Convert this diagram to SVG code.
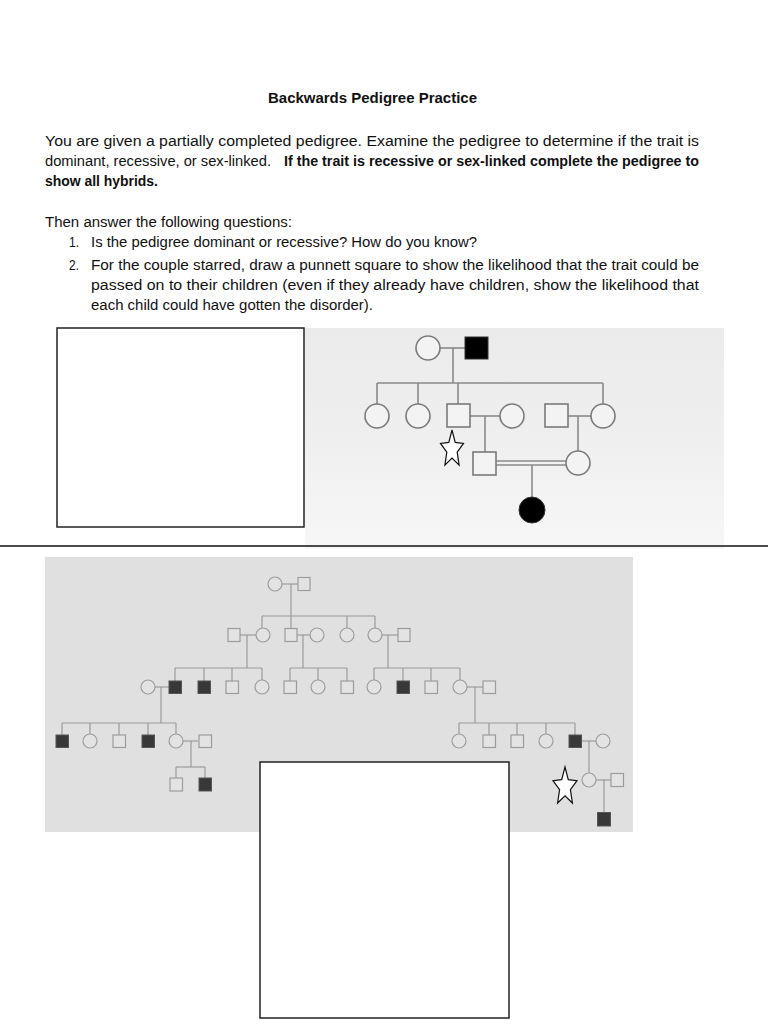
<svg xmlns="http://www.w3.org/2000/svg" width="768" height="1024" viewBox="0 0 768 1024">
<defs>
<linearGradient id="bgTop" x1="0" y1="0" x2="0" y2="1">
<stop offset="0" stop-color="#ebebeb"/>
<stop offset="0.5" stop-color="#efefef"/>
<stop offset="1" stop-color="#f7f7f7"/>
</linearGradient>
<style>
text{font-family:"Liberation Sans",Arial,sans-serif;font-size:14px;fill:#111}
.b{font-weight:bold}
.tl{stroke:#8a8a8a;stroke-width:1.6;fill:none}
.tn{stroke:#7a7a7a;stroke-width:1.6;fill:#f3f3f3}
.tf{fill:#000;stroke:#333;stroke-width:1}
.bl{stroke:#9a9a9a;stroke-width:1.2;fill:none}
.bn{stroke:#9c9c9c;stroke-width:1.2;fill:#e3e3e3}
.bf{fill:#383838;stroke:#555;stroke-width:1}
.star{fill:#fff;stroke:#111;stroke-width:1.2;stroke-linejoin:miter}
.box{fill:#fff;stroke:#222;stroke-width:1.5}
</style>
</defs>
<rect width="768" height="1024" fill="#fff"/>

<g id="text">
<text class="b" x="268" y="103" textLength="209" lengthAdjust="spacingAndGlyphs">Backwards Pedigree Practice</text>
<text x="45" y="146" textLength="654" lengthAdjust="spacingAndGlyphs">You are given a partially completed pedigree.  Examine the pedigree to determine if the trait is</text>
<text x="45" y="166" textLength="226" lengthAdjust="spacingAndGlyphs">dominant, recessive, or sex-linked.</text>
<text class="b" x="284" y="166" textLength="415" lengthAdjust="spacingAndGlyphs">If the trait is recessive or sex-linked complete the pedigree to</text>
<text class="b" x="45" y="186" textLength="113" lengthAdjust="spacingAndGlyphs">show all hybrids.</text>
<text x="45" y="227" textLength="247" lengthAdjust="spacingAndGlyphs">Then answer the following questions:</text>
<text x="69" y="247" textLength="10" lengthAdjust="spacingAndGlyphs">1.</text>
<text x="91" y="247" textLength="386" lengthAdjust="spacingAndGlyphs">Is the pedigree dominant or recessive? How do you know?</text>
<text x="69" y="270" textLength="10" lengthAdjust="spacingAndGlyphs">2.</text>
<text x="91" y="270" textLength="608" lengthAdjust="spacingAndGlyphs">For the couple starred, draw a punnett square to show the likelihood that the trait could be</text>
<text x="91" y="290" textLength="608" lengthAdjust="spacingAndGlyphs">passed on to their children (even if they already have children, show the likelihood that</text>
<text x="91" y="310" textLength="282" lengthAdjust="spacingAndGlyphs">each child could have gotten the disorder).</text>
</g>

<!-- Top pedigree image background -->
<rect x="305" y="328" width="419" height="221" fill="url(#bgTop)"/>
<g id="top-answer-box"><rect class="box" x="57" y="328" width="247" height="199"/></g>

<g id="top-connectors">
<line class="tl" x1="440" y1="348" x2="465" y2="348" stroke-width="3" stroke="#b8b8b8"/>
<line class="tl" x1="453" y1="348" x2="453" y2="383"/>
<line class="tl" x1="377" y1="383" x2="603" y2="383"/>
<line class="tl" x1="377" y1="383" x2="377" y2="404"/>
<line class="tl" x1="418" y1="383" x2="418" y2="404"/>
<line class="tl" x1="458" y1="383" x2="458" y2="404"/>
<line class="tl" x1="603" y1="383" x2="603" y2="404"/>
<line class="tl" x1="470" y1="416" x2="500" y2="416" stroke="#b0b0b0"/>
<line class="tl" x1="485" y1="416" x2="485" y2="452"/>
<line class="tl" x1="568" y1="416" x2="591" y2="416"/>
<line class="tl" x1="578" y1="416" x2="578" y2="451"/>
<line class="tl" x1="496" y1="461" x2="566" y2="461"/>
<line class="tl" x1="496" y1="465" x2="566" y2="465"/>
<line class="tl" x1="532" y1="465" x2="532" y2="497"/>
</g>

<g id="t1"><circle class="tn" cx="428" cy="348" r="12"/></g>
<g id="t2"><rect class="tf" x="465" y="337" width="23" height="22"/></g>
<g id="t3"><circle class="tn" cx="377" cy="416" r="12"/></g>
<g id="t4"><circle class="tn" cx="418" cy="416" r="12"/></g>
<g id="t5"><rect class="tn" x="447" y="404" width="23" height="23"/></g>
<g id="t6"><circle class="tn" cx="512" cy="416" r="12"/></g>
<g id="t7"><rect class="tn" x="545" y="404" width="23" height="23"/></g>
<g id="t8"><circle class="tn" cx="603" cy="416" r="12"/></g>
<g id="t9"><rect class="tn" x="473" y="452" width="23" height="23"/></g>
<g id="t10"><circle class="tn" cx="578" cy="463" r="12"/></g>
<g id="t11"><circle class="tf" cx="532" cy="510" r="13"/></g>
<g id="top-star"><path class="star" d="M452,430 L455.2,442.4 L463.5,443.4 L457.2,452.1 L459.1,465.1 L452,458.1 L444.9,465.1 L446.8,452.1 L440.5,443.4 L448.8,442.4 Z"/></g>

<line x1="0" y1="546" x2="768" y2="546" stroke="#111" stroke-width="1.3"/>

<!-- Bottom pedigree -->
<rect x="45" y="557" width="588" height="275" fill="#e0e0e0"/>

<g id="bottom-connectors">
<line class="bl" x1="282" y1="584" x2="298" y2="584"/>
<line class="bl" x1="291" y1="584" x2="291" y2="616"/>
<line class="bl" x1="262" y1="616" x2="375" y2="616"/>
<line class="bl" x1="262" y1="616" x2="262" y2="628"/>
<line class="bl" x1="291" y1="616" x2="291" y2="628"/>
<line class="bl" x1="347" y1="616" x2="347" y2="628"/>
<line class="bl" x1="375" y1="616" x2="375" y2="628"/>
<line class="bl" x1="240" y1="635" x2="256" y2="635"/>
<line class="bl" x1="247" y1="635" x2="247" y2="668"/>
<line class="bl" x1="297" y1="635" x2="310" y2="635"/>
<line class="bl" x1="303" y1="635" x2="303" y2="668"/>
<line class="bl" x1="382" y1="635" x2="398" y2="635"/>
<line class="bl" x1="388" y1="635" x2="388" y2="668"/>
<line class="bl" x1="175" y1="668" x2="262" y2="668"/>
<line class="bl" x1="175" y1="668" x2="175" y2="681"/>
<line class="bl" x1="204" y1="668" x2="204" y2="681"/>
<line class="bl" x1="232" y1="668" x2="232" y2="681"/>
<line class="bl" x1="262" y1="668" x2="262" y2="680"/>
<line class="bl" x1="290" y1="668" x2="347" y2="668"/>
<line class="bl" x1="290" y1="668" x2="290" y2="681"/>
<line class="bl" x1="318" y1="668" x2="318" y2="680"/>
<line class="bl" x1="347" y1="668" x2="347" y2="681"/>
<line class="bl" x1="374" y1="668" x2="460" y2="668"/>
<line class="bl" x1="374" y1="668" x2="374" y2="680"/>
<line class="bl" x1="403" y1="668" x2="403" y2="681"/>
<line class="bl" x1="431" y1="668" x2="431" y2="681"/>
<line class="bl" x1="460" y1="668" x2="460" y2="680"/>
<line class="bl" x1="155" y1="687" x2="169" y2="687"/>
<line class="bl" x1="161" y1="687" x2="161" y2="723"/>
<line class="bl" x1="467" y1="687" x2="483" y2="687"/>
<line class="bl" x1="475" y1="687" x2="475" y2="723"/>
<line class="bl" x1="62" y1="723" x2="176" y2="723"/>
<line class="bl" x1="62" y1="723" x2="62" y2="735"/>
<line class="bl" x1="90" y1="723" x2="90" y2="734"/>
<line class="bl" x1="119" y1="723" x2="119" y2="735"/>
<line class="bl" x1="148" y1="723" x2="148" y2="735"/>
<line class="bl" x1="176" y1="723" x2="176" y2="734"/>
<line class="bl" x1="183" y1="741" x2="198" y2="741"/>
<line class="bl" x1="191" y1="741" x2="191" y2="767"/>
<line class="bl" x1="176" y1="767" x2="205" y2="767"/>
<line class="bl" x1="176" y1="767" x2="176" y2="778"/>
<line class="bl" x1="205" y1="767" x2="205" y2="778"/>
<line class="bl" x1="459" y1="723" x2="575" y2="723"/>
<line class="bl" x1="459" y1="723" x2="459" y2="734"/>
<line class="bl" x1="489" y1="723" x2="489" y2="735"/>
<line class="bl" x1="517" y1="723" x2="517" y2="735"/>
<line class="bl" x1="546" y1="723" x2="546" y2="734"/>
<line class="bl" x1="575" y1="723" x2="575" y2="735"/>
<line class="bl" x1="582" y1="741" x2="596" y2="741"/>
<line class="bl" x1="589" y1="741" x2="589" y2="773"/>
<line class="bl" x1="596" y1="780" x2="611" y2="780"/>
<line class="bl" x1="604" y1="780" x2="604" y2="812"/>
</g>

<g id="g1a"><circle class="bn" cx="275" cy="584" r="7"/></g>
<g id="g1b"><rect class="bn" x="298" y="577.5" width="12" height="13"/></g>

<g id="g2a"><rect class="bn" x="228" y="628.5" width="12" height="13"/></g>
<g id="g2b"><circle class="bn" cx="263" cy="635" r="7"/></g>
<g id="g2c"><rect class="bn" x="285" y="628.5" width="12" height="13"/></g>
<g id="g2d"><circle class="bn" cx="317" cy="635" r="7"/></g>
<g id="g2e"><circle class="bn" cx="347" cy="635" r="7"/></g>
<g id="g2f"><circle class="bn" cx="375" cy="635" r="7"/></g>
<g id="g2g"><rect class="bn" x="398" y="628.5" width="12" height="13"/></g>

<g id="g3a"><circle class="bn" cx="148" cy="687" r="7"/></g>
<g id="g3b"><rect class="bf" x="169" y="681" width="12.5" height="12.5"/></g>
<g id="g3c"><rect class="bf" x="198" y="681" width="12.5" height="12.5"/></g>
<g id="g3d"><rect class="bn" x="226" y="681" width="12.5" height="12.5"/></g>
<g id="g3e"><circle class="bn" cx="262" cy="687" r="7"/></g>
<g id="g3f"><rect class="bn" x="284" y="681" width="12.5" height="12.5"/></g>
<g id="g3g"><circle class="bn" cx="318" cy="687" r="7"/></g>
<g id="g3h"><rect class="bn" x="341" y="681" width="12.5" height="12.5"/></g>
<g id="g3i"><circle class="bn" cx="374" cy="687" r="7"/></g>
<g id="g3j"><rect class="bf" x="397" y="681" width="12.5" height="12.5"/></g>
<g id="g3k"><rect class="bn" x="425" y="681" width="12.5" height="12.5"/></g>
<g id="g3l"><circle class="bn" cx="460" cy="687" r="7"/></g>
<g id="g3m"><rect class="bn" x="483" y="681" width="12.5" height="12.5"/></g>

<g id="g4a"><rect class="bf" x="56" y="735" width="12.5" height="12.5"/></g>
<g id="g4b"><circle class="bn" cx="90" cy="741" r="7"/></g>
<g id="g4c"><rect class="bn" x="113" y="735" width="12.5" height="12.5"/></g>
<g id="g4d"><rect class="bf" x="142" y="735" width="12.5" height="12.5"/></g>
<g id="g4e"><circle class="bn" cx="176" cy="741" r="7"/></g>
<g id="g4f"><rect class="bn" x="199" y="735" width="12.5" height="12.5"/></g>
<g id="g5a"><rect class="bn" x="170" y="778" width="12.5" height="13"/></g>
<g id="g5b"><rect class="bf" x="199" y="778" width="12.5" height="13"/></g>

<g id="g4g"><circle class="bn" cx="459" cy="741" r="7"/></g>
<g id="g4h"><rect class="bn" x="483" y="735" width="12.5" height="12.5"/></g>
<g id="g4i"><rect class="bn" x="511" y="735" width="12.5" height="12.5"/></g>
<g id="g4j"><circle class="bn" cx="546" cy="741" r="7"/></g>
<g id="g4k"><rect class="bf" x="569" y="735" width="12.5" height="12.5"/></g>
<g id="g4l"><circle class="bn" cx="603" cy="741" r="7"/></g>
<g id="g5c"><circle class="bn" cx="589" cy="780" r="7"/></g>
<g id="g5d"><rect class="bn" x="611" y="773.5" width="12.5" height="13"/></g>
<g id="g6a"><rect class="bf" x="597.5" y="812.5" width="13" height="13.5"/></g>

<g id="bottom-star"><path class="star" d="M565,767 L568.3,779.7 L577,780.7 L570.4,789.7 L572.4,803 L565,795.9 L557.6,803 L559.6,789.7 L553,780.7 L561.7,779.7 Z"/></g>

<g id="bottom-answer-box"><rect class="box" x="260" y="762" width="249" height="256" stroke="#111" stroke-width="1.3"/></g>
</svg>
